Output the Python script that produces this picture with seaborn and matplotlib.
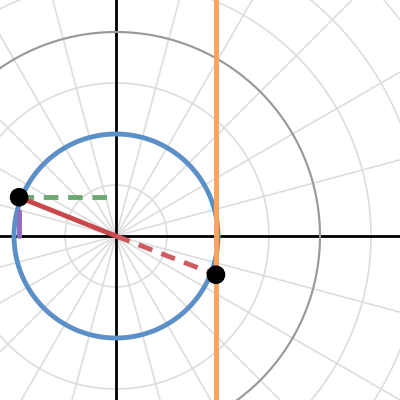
import numpy as np
import matplotlib.pyplot as plt
import seaborn as sns

sns.set_style("white")

# data (graph units)
circle_r = 1.0
outer_r = 2.0
vline_x = 0.98
p1 = (-0.95, 0.38)
p2 = (0.98, -0.38)
purple_top = 0.25
grid_radii = [0.5, 1.0, 1.5, 2.0, 2.5, 3.0, 3.5]
grid_angles_deg = list(range(0, 360, 15))

fig, ax = plt.subplots(figsize=(4, 4), dpi=100)
fig.subplots_adjust(0, 0, 1, 1)
ax.set_xlim(-116 / 102, 284 / 102)
ax.set_ylim(-164 / 102, 236 / 102)
ax.axis("off")

t = np.linspace(0, 2 * np.pi, 400)
for r in grid_radii:
    ax.plot(r * np.cos(t), r * np.sin(t), color="#dddddd", lw=1.2, zorder=1)
for a in grid_angles_deg:
    ar = np.radians(a)
    ax.plot([0, 5 * np.cos(ar)], [0, 5 * np.sin(ar)], color="#dddddd", lw=1.2, zorder=1)

ax.axhline(0, color="black", lw=2, zorder=2)
ax.axvline(0, color="black", lw=2, zorder=2)

ax.plot(outer_r * np.cos(t), outer_r * np.sin(t), color="#999999", lw=1.5, zorder=3)
sns.lineplot(x=circle_r * np.cos(t), y=circle_r * np.sin(t), sort=False, estimator=None,
             color="#5b8fc7", lw=3.5, ax=ax, zorder=4)
ax.axvline(vline_x, color="#ffa35c", lw=3.5, zorder=4)

ax.plot([p1[0], 0], [p1[1], p1[1]], color="#6aaa72", lw=3.5, ls=(0, (3, 2)), zorder=5)
ax.plot([p1[0], p1[0]], [0, purple_top], color="#8e6bc1", lw=3.5, zorder=5)
ax.plot([0, p1[0]], [0, p1[1]], color="#c9484d", lw=3.5, zorder=6)
ax.plot([0, p2[0]], [0, p2[1]], color="#cc5c60", lw=3.5, ls=(0, (3, 2)), zorder=6)

sns.scatterplot(x=[p1[0], p2[0]], y=[p1[1], p2[1]], color="black", s=180,
                edgecolor="none", ax=ax, zorder=7)

fig.savefig("out.png", dpi=100)
